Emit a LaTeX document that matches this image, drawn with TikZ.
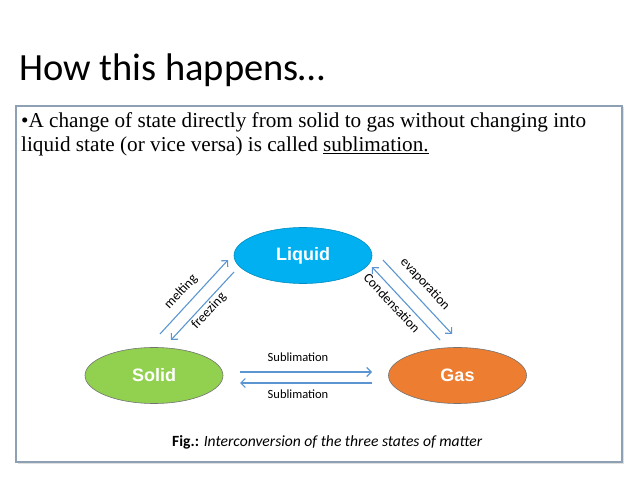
\documentclass[tikz,border=0pt]{standalone}
\usepackage{fontspec}
\setmainfont{Liberation Serif}
\newfontfamily\calib{Carlito}
\newfontfamily\arial{Liberation Sans}
\usetikzlibrary{arrows.meta,shapes.geometric,shadows}
\definecolor{framec}{RGB}{142,160,180}
\definecolor{arrc}{RGB}{91,150,210}
\definecolor{liqc}{RGB}{0,176,240}
\definecolor{solc}{RGB}{146,208,80}
\definecolor{gasc}{RGB}{237,125,49}
\tikzset{
  state/.style={ellipse, minimum width=138pt, minimum height=56pt, inner sep=0pt,
    text=white, font=\arial\bfseries\fontsize{18}{20}\selectfont, line width=0.6pt},
  conv/.style={draw=arrc, line width=1.1pt, -{Straight Barb[length=4.5pt,width=9pt]}},
  lbl/.style={font=\calib\fontsize{12.5}{14}\selectfont, inner sep=0pt},
}
\begin{document}
\begin{tikzpicture}[x=1pt,y=-1pt]
\useasboundingbox (0,0) rectangle (638,478);
\fill[white] (0,0) rectangle (638,478);
% frame
\fill[black!12] (17.5,107.5) rectangle (624,464);
\draw[framec, line width=1.4pt, fill=white] (16,106) rectangle (622,462);
% title
\node[anchor=base west, inner sep=0pt, font=\calib\fontsize{38.5}{44}\selectfont] (title) at (19,81) {How this happens…};
% bullet text
\node[anchor=north west, inner sep=0pt, align=left, font=\fontsize{21.2}{23.5}\selectfont] (body) at (21,112.5)
  {•A change of state directly from solid to gas without changing into\\
   liquid state (or vice versa) is called \underline{sublimation.}};
% states
\node[state, fill=liqc, draw=liqc!80!black] (liquid) at (303,255.5) {Liquid};
\node[state, fill=solc, draw=black!55] (solid) at (154,375.5) {Solid};
\node[state, fill=gasc, draw=black!55] (gas) at (457.5,375.5) {Gas};
% arrow end points
\coordinate (m1) at (160,334); \coordinate (m2) at (228,260);
\coordinate (f1) at (234,272); \coordinate (f2) at (171,340);
\coordinate (e1) at (383,260); \coordinate (e2) at (452,334);
\coordinate (c1) at (440,340); \coordinate (c2) at (372,267);
\coordinate (s1) at (240,372); \coordinate (s2) at (372,372);
\coordinate (t1) at (372,383); \coordinate (t2) at (240,383);
\draw[conv] (m1) -- (m2);
\draw[conv] (f1) -- (f2);
\draw[conv] (e1) -- (e2);
\draw[conv] (c1) -- (c2);
\draw[conv] (s1) -- (s2);
\draw[conv] (t1) -- (t2);
% labels
\node[lbl, rotate=47, font=\calib\fontsize{13.5}{15}\selectfont] (lmelt) at (181,292) {melting};
\node[lbl, rotate=47, font=\calib\fontsize{13.5}{15}\selectfont] (lfreeze) at (209,311) {freezing};
\node[lbl, rotate=-47, font=\calib\fontsize{13.5}{15}\selectfont] (levap) at (425,284) {evaporation};
\node[lbl, rotate=-47, font=\calib\fontsize{13.5}{15}\selectfont] (lcond) at (392,303) {Condensation};
\node[lbl] (lsub1) at (298,357) {Sublimation};
\node[lbl] (lsub2) at (298,394) {Sublimation};
% caption
\node[anchor=base west, inner sep=0pt, font=\calib\fontsize{15.6}{18}\selectfont] (cap) at (172,447)
  {\textbf{Fig.:} \textit{Interconversion of the three states of matter}};
\end{tikzpicture}
\end{document}
